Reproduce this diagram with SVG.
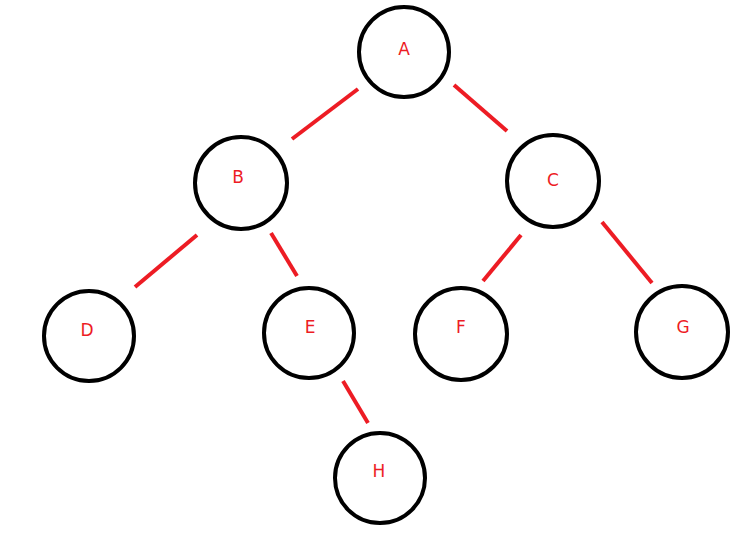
<svg xmlns="http://www.w3.org/2000/svg" width="751" height="547" viewBox="0 0 751 547">
<style>
.n{fill:#fff;stroke:#000;stroke-width:4}
.t{fill:#ed1c24;font-family:"DejaVu Sans",sans-serif;font-size:17px;text-anchor:middle}
.e{stroke:#ed1c24;stroke-width:4;fill:none}
</style>
<rect width="751" height="547" fill="#fff"/>
<g id="connectors">
<line class="e" x1="358" y1="89" x2="292" y2="139"/>
<line class="e" x1="454" y1="85" x2="507" y2="131"/>
<line class="e" x1="197" y1="235" x2="135" y2="287"/>
<line class="e" x1="271" y1="233" x2="297" y2="276"/>
<line class="e" x1="521" y1="235" x2="483" y2="281"/>
<line class="e" x1="602" y1="222" x2="652" y2="283"/>
<line class="e" x1="343" y1="381" x2="368" y2="423"/>
</g>
<g id="A"><circle class="n" cx="404" cy="52" r="45"/><text class="t" x="404" y="55">A</text></g>
<g id="B"><circle class="n" cx="241" cy="183" r="46"/><text class="t" x="238" y="183">B</text></g>
<g id="C"><circle class="n" cx="553" cy="181" r="46"/><text class="t" x="553" y="186">C</text></g>
<g id="D"><circle class="n" cx="89" cy="336" r="45"/><text class="t" x="87" y="336">D</text></g>
<g id="E"><circle class="n" cx="309" cy="333" r="45"/><text class="t" x="310" y="333">E</text></g>
<g id="F"><circle class="n" cx="461" cy="334" r="46"/><text class="t" x="461" y="333">F</text></g>
<g id="G"><circle class="n" cx="682" cy="332" r="46"/><text class="t" x="683" y="333">G</text></g>
<g id="H"><circle class="n" cx="380" cy="478" r="45"/><text class="t" x="379" y="477">H</text></g>
</svg>
